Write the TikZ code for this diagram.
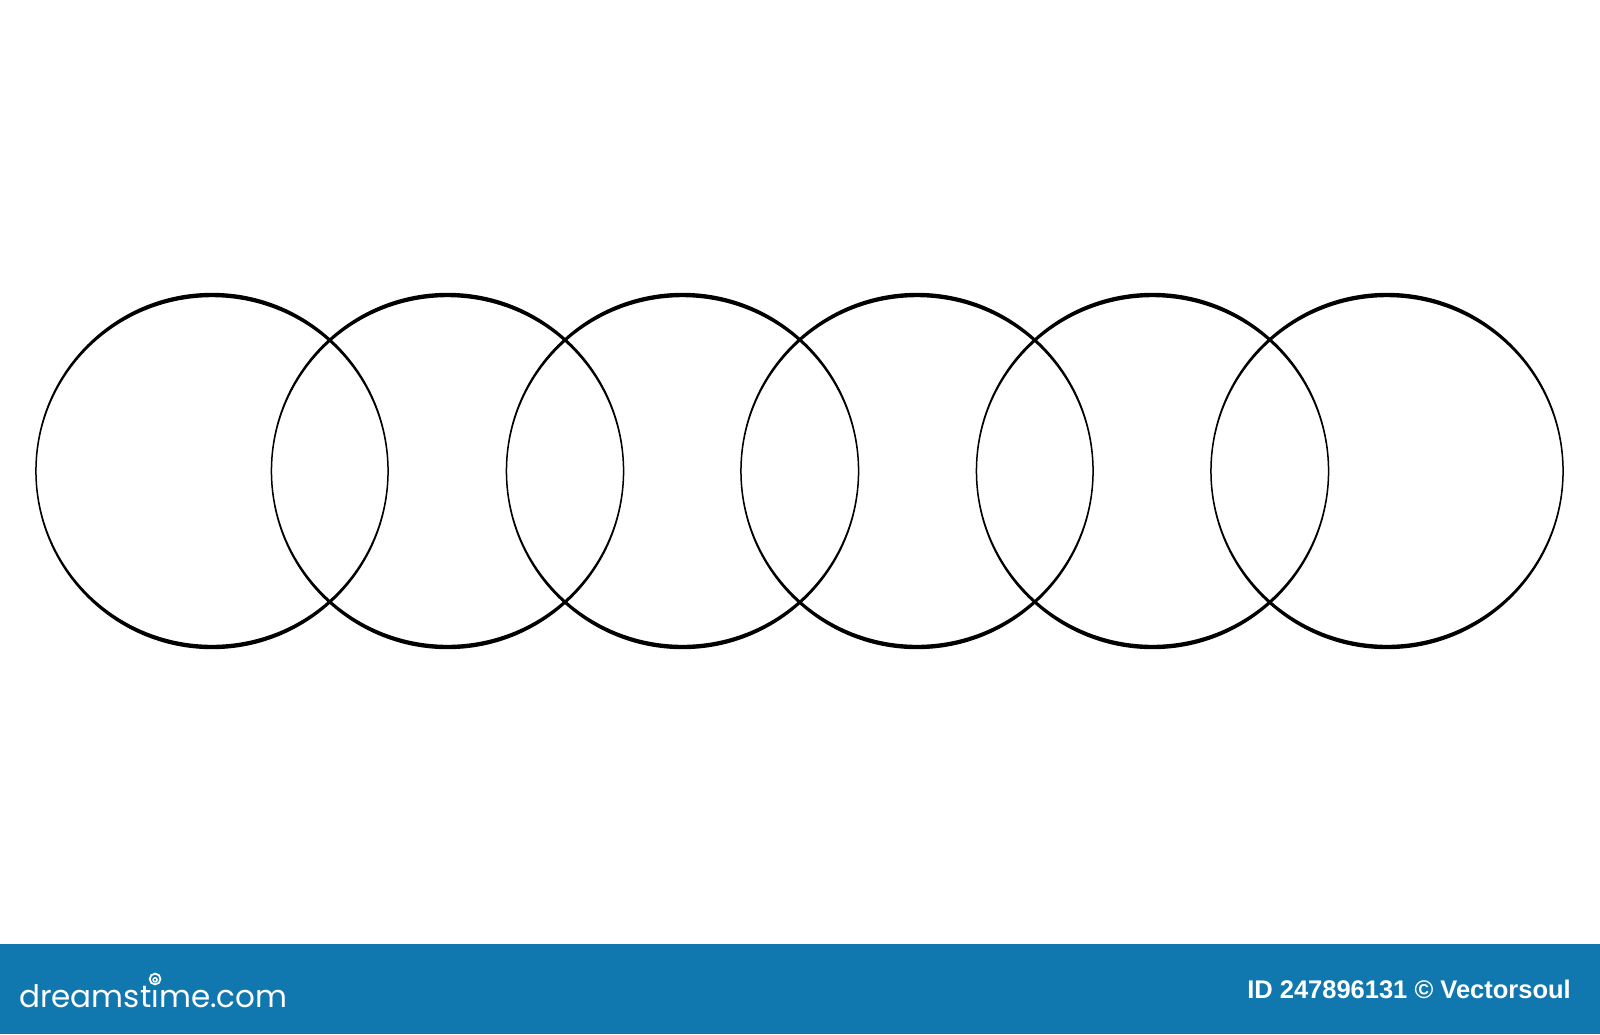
\documentclass[tikz,border=0pt]{standalone}
\usepackage{fontspec}
\setmainfont{Liberation Sans}
\newfontfamily\logofont{Poppins}
\definecolor{banner}{HTML}{1078AF}
\tikzset{
  ring/.style={fill=black, even odd rule, draw=none},
  bannertext/.style={text=white, inner sep=0pt, anchor=base west},
  logotext/.style={bannertext, font=\logofont\fontsize{31}{34}\selectfont}
}
\begin{document}
\begin{tikzpicture}[x=1pt,y=-1pt]
\useasboundingbox (0,0) rectangle (1600,1034);
\fill[white] (0,0) rectangle (1600,1034);
% rings
\foreach \cx [count=\i] in {212,447.5,682.5,917,1152.5,1387}{
  \path[ring] (\cx,471) ellipse [x radius=176.8, y radius=178.2]
              (\cx,471) ellipse [x radius=175.3, y radius=173.8];
  \coordinate (c\i) at (\cx,471);
}
% banner
\node[fill=banner, minimum width=1600, minimum height=90, inner sep=0pt, anchor=north west] (bar) at (0,944) {};
\node[logotext] (logoA) at (19,1007) {dreamst};
\node[logotext, anchor=base west] (logoB) at (logoA.base east) {ıme.com};
\coordinate (sp) at ([xshift=3.6pt, yshift=28pt]logoB.base west);
\draw[white, line width=1.8] (sp) circle [radius=5.4];
\draw[white, line width=1.5] ([yshift=-0.8pt]sp) circle [radius=2];
\node[bannertext, anchor=base east, font=\bfseries\fontsize{25.5}{28}\selectfont] (id) at (1571,998) {ID 247896131 © Vectorsoul};
\end{tikzpicture}
\end{document}
